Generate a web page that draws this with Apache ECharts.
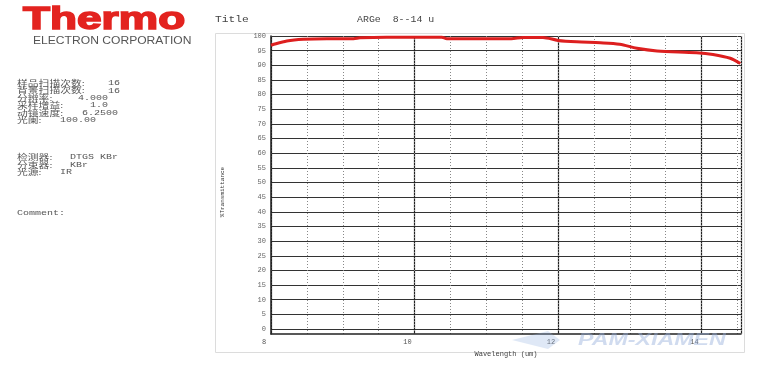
<!DOCTYPE html>
<html><head><meta charset="utf-8">
<script src="https://cdn.jsdelivr.net/npm/echarts@6/dist/echarts.min.js"></script>
<style>html,body{margin:0;padding:0;background:#fff}#c{width:760px;height:373px}</style>
</head><body><div id="c"></div>
<script>
// ---- data ----
const wavelength = [8.0, 8.02, 8.22, 8.45, 8.78, 9.15, 9.24, 9.61, 10.38, 10.45, 11.35, 11.51, 11.79, 12.0, 12.26, 12.59, 12.86, 13.1, 13.38, 13.93, 14.16, 14.4, 14.54];
const transmittance = [96.8, 97.0, 98.3, 98.9, 99.1, 99.1, 99.4, 99.6, 99.6, 99.1, 99.1, 99.5, 99.5, 98.5, 98.0, 97.7, 97.2, 95.8, 94.9, 94.3, 93.7, 92.4, 90.6];
const yTicks = [0,5,10,15,20,25,30,35,40,45,50,55,60,65,70,75,80,85,90,95,100];
const xTicks = [8, 10, 12, 14];
const paramLabels = ['样品扫描次数:', '背景扫描次数:', '分辨率:', '采样增益:', '动镜速度:', '光阑:'];
const paramValues = ['16', '16', '4.000', '1.0', '6.2500', '100.00'];
const paramValueX = [108, 108, 78, 90, 82, 60];
const hwLabels = ['检测器:', '分束器:', '光源:'];
const hwValues = ['DTGS KBr', 'KBr', 'IR'];
const hwValueX = [70, 70, 60];

const mono = '"Liberation Mono","DejaVu Sans Mono",monospace';
const cjk = '"Noto Sans CJK SC","Liberation Mono",monospace';
const chart = echarts.init(document.getElementById('c'), null, {renderer: 'canvas'});

const graphics = [
  {type: 'rect', shape: {x: 215.5, y: 33.5, width: 529, height: 319}, style: {fill: 'none', stroke: '#dcdcdc', lineWidth: 1}, z: 0},
  {type: 'text', x: 23, y: 5, scaleX: 1.34, scaleY: 0.93, style: {text: 'Thermo', font: 'bold 33px "Liberation Sans", Arial, sans-serif', fill: '#e3231f', stroke: '#e3231f', lineWidth: 1.6}},
  {type: 'text', x: 33, y: 35, scaleX: 1.1, style: {text: 'ELECTRON CORPORATION', font: '11px "Liberation Sans", Arial, sans-serif', fill: '#555'}},
  {type: 'text', x: 215, y: 15, scaleX: 1.25, style: {text: 'Title', font: '9px ' + mono, fill: '#444'}},
  {type: 'text', x: 357, y: 15, scaleX: 1.1, style: {text: 'ARGe  8--14 u', font: '9px ' + mono, fill: '#444'}},
  {type: 'text', x: 17, y: 209, scaleX: 1.25, style: {text: 'Comment:', font: '8px ' + mono, fill: '#555'}},
  {type: 'text', x: 222, y: 192, rotation: Math.PI / 2, style: {text: '%Transmittance', font: '6px ' + mono, fill: '#333', align: 'center', verticalAlign: 'middle'}},
  {type: 'text', x: 578, y: 333, scaleX: 1.45, style: {text: 'PAM-XIAMEN', font: 'italic bold 16px "Liberation Sans", Arial, sans-serif', fill: 'rgba(150,175,220,0.45)'}, z: 10},
  {type: 'polygon', shape: {points: [[512, 340], [548, 331], [560, 340], [548, 349]]}, style: {fill: 'rgba(150,180,225,0.3)'}, z: 10}
];
paramLabels.forEach((t, i) => {
  const y = 79 + i * 7.4;
  graphics.push({type: 'text', x: 17, y: y, scaleX: 1.35, style: {text: t, font: '8px ' + cjk, fill: '#555'}});
  graphics.push({type: 'text', x: paramValueX[i], y: y, scaleX: 1.25, style: {text: paramValues[i], font: '8px ' + mono, fill: '#555'}});
});
hwLabels.forEach((t, i) => {
  const y = 153 + i * 7.5;
  graphics.push({type: 'text', x: 17, y: y, scaleX: 1.35, style: {text: t, font: '8px ' + cjk, fill: '#555'}});
  graphics.push({type: 'text', x: hwValueX[i], y: y, scaleX: 1.25, style: {text: hwValues[i], font: '8px ' + mono, fill: '#555'}});
});

chart.setOption({
  animation: false,
  backgroundColor: '#fff',
  grid: {left: 271, right: 19, top: 36, bottom: 39, outerBoundsMode: 'none'},
  graphic: graphics,
  xAxis: [{
    type: 'value', min: 8, max: 14.55, interval: 2,
    name: 'Wavelength (um)', nameLocation: 'middle', nameGap: 11,
    nameTextStyle: {fontFamily: mono, fontSize: 7, color: '#444'},
    axisLine: {show: true, onZero: false, lineStyle: {color: '#222', width: 1.5}},
    axisTick: {show: false},
    axisLabel: {fontFamily: mono, fontSize: 7, color: '#555', margin: 5, showMaxLabel: false, padding: [0, 14, 0, 0]},
    splitLine: {show: true, lineStyle: {color: '#222', width: 1.2}}
  }, {
    type: 'value', min: 8, max: 14.55, interval: 0.5, position: 'bottom',
    axisLine: {show: false}, axisTick: {show: false}, axisLabel: {show: false},
    splitLine: {show: true, lineStyle: {color: '#888', width: 1, type: [1, 2]}}
  }],
  yAxis: {
    type: 'value', min: -1.7, max: 100,
    axisLine: {show: true, onZero: false, lineStyle: {color: '#222', width: 1.5}},
    axisTick: {show: false, customValues: yTicks},
    axisLabel: {customValues: yTicks, fontFamily: mono, fontSize: 7, color: '#666', margin: 5},
    splitLine: {show: true, lineStyle: {color: '#333', width: 1}}
  },
  series: [{
    type: 'line', xAxisIndex: 0,
    data: wavelength.map((w, i) => [w, transmittance[i]]),
    showSymbol: false, smooth: 0.3,
    lineStyle: {color: '#dd1f1f', width: 3},
    z: 5
  }]
});
</script></body></html>
